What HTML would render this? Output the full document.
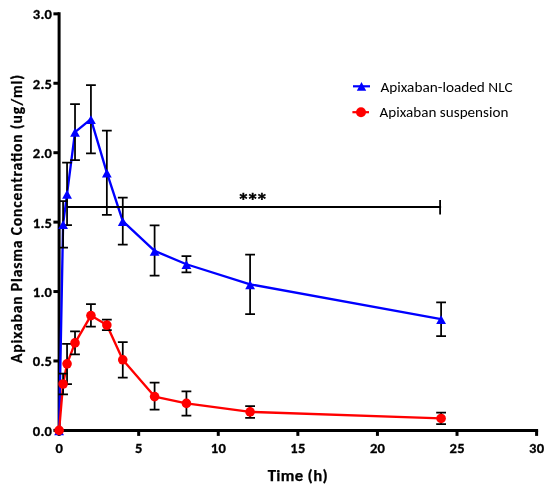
<!DOCTYPE html><html><head><meta charset="utf-8"><style>html,body{margin:0;padding:0;background:#fff;}svg{display:block;}text{font-family:Carlito,"Liberation Sans",sans-serif;fill:#000;}</style></head><body><svg width="550" height="492" viewBox="0 0 550 492"><rect width="550" height="492" fill="#fff"/><g stroke="#000" stroke-width="3" fill="none" stroke-linecap="butt"><path d="M59.1 12.35V431.9"/><path d="M57.6 430.4H538.1"/><path d="M53.4 430.4H59.1"/><path d="M53.4 360.97H59.1"/><path d="M53.4 291.55H59.1"/><path d="M53.4 222.12H59.1"/><path d="M53.4 152.7H59.1"/><path d="M53.4 83.27H59.1"/><path d="M53.4 13.85H59.1"/><path d="M59.1 430.4V435.9"/><path d="M138.68 430.4V435.9"/><path d="M218.27 430.4V435.9"/><path d="M297.85 430.4V435.9"/><path d="M377.43 430.4V435.9"/><path d="M457.02 430.4V435.9"/><path d="M536.6 430.4V435.9"/></g><g font-size="14.6" letter-spacing="0.3" font-weight="bold" stroke="#000" stroke-width="0.3"><text x="52.3" y="435.8" text-anchor="end">0.0</text><text x="52.3" y="366.37" text-anchor="end">0.5</text><text x="52.3" y="296.95" text-anchor="end">1.0</text><text x="52.3" y="227.53" text-anchor="end">1.5</text><text x="52.3" y="158.1" text-anchor="end">2.0</text><text x="52.3" y="88.67" text-anchor="end">2.5</text><text x="52.3" y="19.25" text-anchor="end">3.0</text><text x="59.25" y="452.5" text-anchor="middle">0</text><text x="138.83" y="452.5" text-anchor="middle">5</text><text x="218.42" y="452.5" text-anchor="middle">10</text><text x="298" y="452.5" text-anchor="middle">15</text><text x="377.58" y="452.5" text-anchor="middle">20</text><text x="457.17" y="452.5" text-anchor="middle">25</text><text x="536.75" y="452.5" text-anchor="middle">30</text></g><text x="297.7" y="481.4" font-size="16.8" font-weight="bold" stroke="#000" stroke-width="0.25" text-anchor="middle" textLength="60" lengthAdjust="spacing">Time (h)</text><text transform="translate(22.2 219.0) rotate(-90)" x="0" y="0" font-size="15.6" font-weight="bold" stroke="#000" stroke-width="0.25" text-anchor="middle" textLength="288" lengthAdjust="spacing">Apixaban Plasma Concentration (ug/ml)</text><polyline points="59.1,430.4 63.08,224.3 67.06,193.85 75.02,132.05 90.93,119.2 106.85,172.65 122.77,221.1 154.6,250.9 186.43,264.25 250.1,284.35 441.1,319.2" fill="none" stroke="#0000ff" stroke-width="2.35" stroke-linejoin="round"/><polyline points="59.1,430.4 63.08,384 67.06,363.85 75.02,342.9 90.93,315.6 106.85,325.1 122.77,359.8 154.6,396.6 186.43,403.4 250.1,411.9 441.1,418.45" fill="none" stroke="#ff0000" stroke-width="2.35" stroke-linejoin="round"/><g stroke="#000" stroke-width="1.75" fill="none"><path d="M63.08 201.1V247.5M58.18 201.1H67.98M58.18 247.5H67.98"/><path d="M67.06 162.6V225.1M62.16 162.6H71.96M62.16 225.1H71.96"/><path d="M75.02 104V160.1M70.12 104H79.92M70.12 160.1H79.92"/><path d="M90.93 85.1V153.3M86.03 85.1H95.83M86.03 153.3H95.83"/><path d="M106.85 130.5V214.8M101.95 130.5H111.75M101.95 214.8H111.75"/><path d="M122.77 197.6V244.6M117.87 197.6H127.67M117.87 244.6H127.67"/><path d="M154.6 225.4V275.5M149.7 225.4H159.5M149.7 275.5H159.5"/><path d="M186.43 256.2V272.3M181.53 256.2H191.33M181.53 272.3H191.33"/><path d="M250.1 254.6V314.1M245.2 254.6H255M245.2 314.1H255"/><path d="M441.1 302.4V336M436.2 302.4H446M436.2 336H446"/></g><g stroke="#000" stroke-width="1.75" fill="none"><path d="M63.08 373.5V394.4M58.18 373.5H67.98M58.18 394.4H67.98"/><path d="M67.06 343.8V384.1M62.16 343.8H71.96M62.16 384.1H71.96"/><path d="M75.02 331.3V354.3M70.12 331.3H79.92M70.12 354.3H79.92"/><path d="M90.93 304V326.7M86.03 304H95.83M86.03 326.7H95.83"/><path d="M106.85 319.7V330.1M101.95 319.7H111.75M101.95 330.1H111.75"/><path d="M122.77 342V377.6M117.87 342H127.67M117.87 377.6H127.67"/><path d="M154.6 382.7V409.6M149.7 382.7H159.5M149.7 409.6H159.5"/><path d="M186.43 391.3V415.5M181.53 391.3H191.33M181.53 415.5H191.33"/><path d="M250.1 406V417.8M245.2 406H255M245.2 417.8H255"/><path d="M441.1 412.7V424.2M436.2 412.7H446M436.2 424.2H446"/></g><g fill="#0000ff"><path d="M59.1 426.4L64 435.2L54.2 435.2Z"/><path d="M63.08 220.3L67.98 229.1L58.18 229.1Z"/><path d="M67.06 189.85L71.96 198.65L62.16 198.65Z"/><path d="M75.02 128.05L79.92 136.85L70.12 136.85Z"/><path d="M90.93 115.2L95.83 124L86.03 124Z"/><path d="M106.85 168.65L111.75 177.45L101.95 177.45Z"/><path d="M122.77 217.1L127.67 225.9L117.87 225.9Z"/><path d="M154.6 246.9L159.5 255.7L149.7 255.7Z"/><path d="M186.43 260.25L191.33 269.05L181.53 269.05Z"/><path d="M250.1 280.35L255 289.15L245.2 289.15Z"/><path d="M441.1 315.2L446 324L436.2 324Z"/></g><g fill="#ff0000"><circle cx="59.1" cy="430.4" r="4.8"/><circle cx="63.08" cy="384" r="4.8"/><circle cx="67.06" cy="363.85" r="4.8"/><circle cx="75.02" cy="342.9" r="4.8"/><circle cx="90.93" cy="315.6" r="4.8"/><circle cx="106.85" cy="325.1" r="4.8"/><circle cx="122.77" cy="359.8" r="4.8"/><circle cx="154.6" cy="396.6" r="4.8"/><circle cx="186.43" cy="403.4" r="4.8"/><circle cx="250.1" cy="411.9" r="4.8"/><circle cx="441.1" cy="418.45" r="4.8"/></g><g stroke="#000" stroke-width="1.8" fill="none"><path d="M67.06 207H441.1"/><path d="M440.1 200V214.5"/></g><text x="253.4" y="202.8" font-size="14.8" font-weight="bold" font-family="DejaVu Sans" style="font-family:&quot;DejaVu Sans&quot;,sans-serif" text-anchor="middle" letter-spacing="1.6" stroke="#000" stroke-width="0.6">***</text><path d="M353 86.3H370" stroke="#0000ff" stroke-width="2.2"/><path d="M361.5 81.9L366.2 90.8L356.8 90.8Z" fill="#0000ff"/><path d="M352.4 112.2H369" stroke="#ff0000" stroke-width="2.2"/><circle cx="361" cy="112.2" r="5" fill="#ff0000"/><text x="380.4" y="91.6" font-size="14.8" textLength="132.2" lengthAdjust="spacingAndGlyphs">Apixaban-loaded NLC</text><text x="379.6" y="116.9" font-size="14.8" textLength="128.8" lengthAdjust="spacingAndGlyphs">Apixaban suspension</text></svg></body></html>
